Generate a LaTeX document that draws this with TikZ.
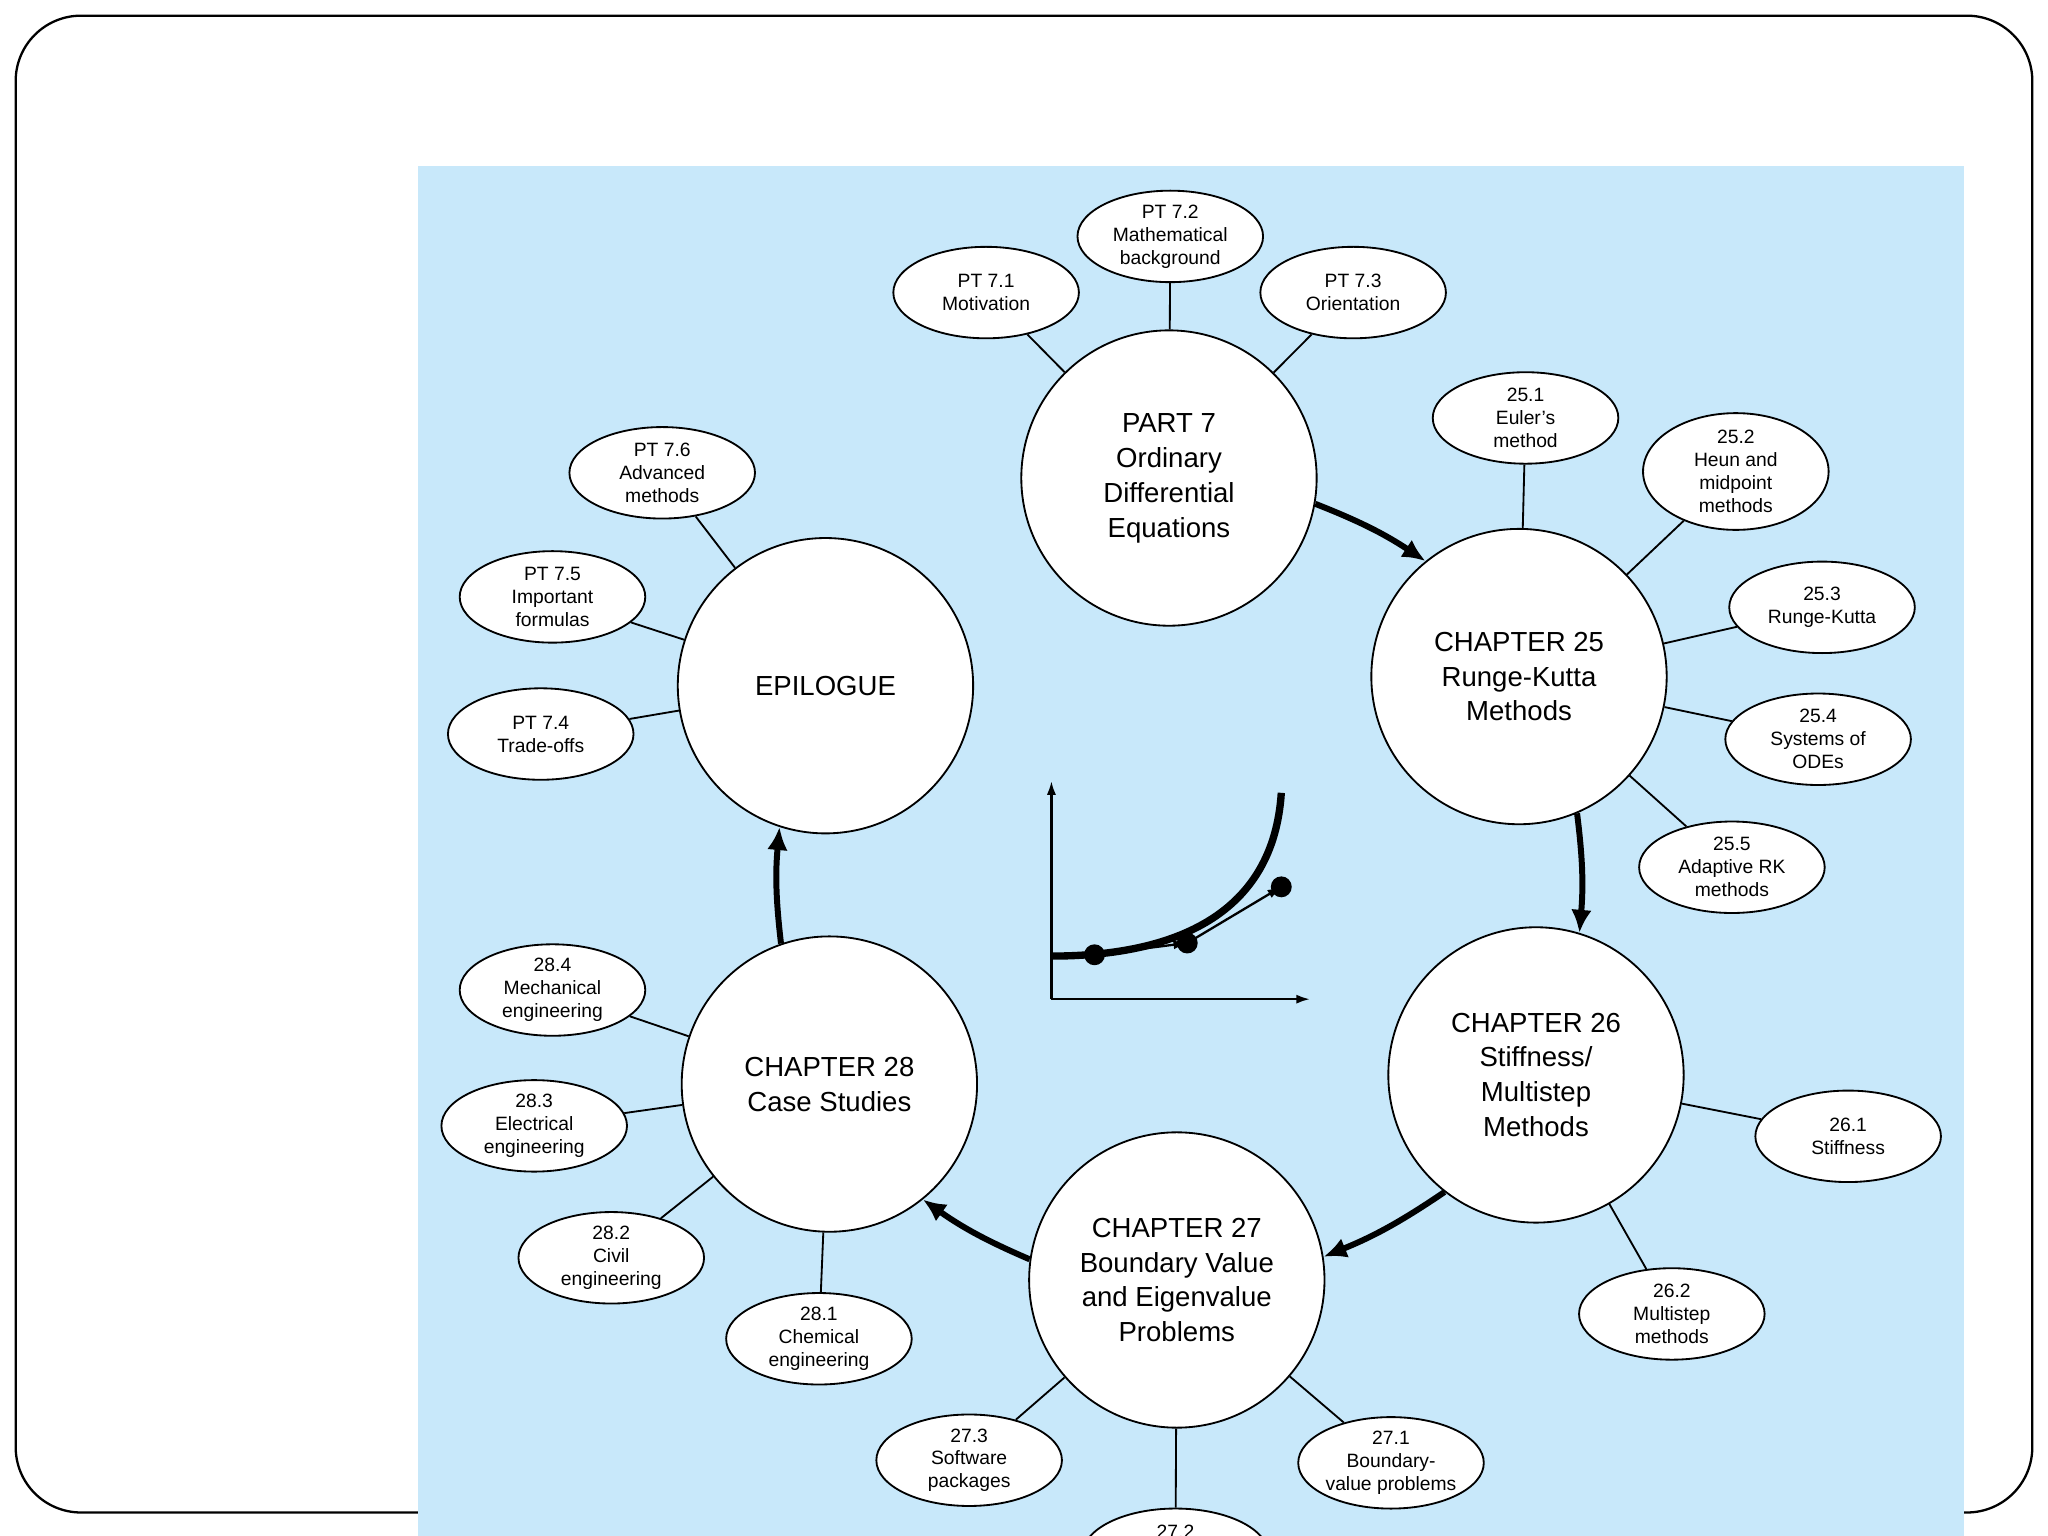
\documentclass[tikz,border=0pt]{standalone}
\usepackage{fontspec}
\setmainfont{Liberation Sans}
\usetikzlibrary{shapes.geometric,arrows.meta}
\definecolor{panel}{RGB}{200,232,250}
\begin{document}
\begin{tikzpicture}[x=0.01cm,y=-0.01cm,
 circ/.style={circle,draw,fill=white,minimum size=2.26cm,inner sep=0pt,align=center,font=\fontsize{6}{7.6}\selectfont},
 ell/.style={ellipse,draw,fill=white,minimum width=1.42cm,minimum height=0.7cm,inner sep=0pt,align=center,font=\fontsize{4.2}{5}\selectfont},
 flow/.style={line width=1.3pt,-{Latex[length=5pt,width=4.5pt]}}]
\useasboundingbox (0,0) rectangle (1568,1176);
\clip (0,0) rectangle (1568,1176);
\fill[white] (0,0) rectangle (1568,1176);
\draw[line width=0.5pt,rounded corners=0.5cm] (12,12) rectangle (1556,1158);
\fill[panel] (320,127) rectangle (1504,1180);
% circles
\node[circ] (p7) at (895,366) {PART 7\\Ordinary\\Differential\\Equations};
\node[circ] (c25) at (1163,518) {CHAPTER 25\\Runge-Kutta\\Methods};
\node[circ] (c26) at (1176,823) {CHAPTER 26\\Stiffness/\\Multistep\\Methods};
\node[circ] (c27) at (901,980) {CHAPTER 27\\Boundary Value\\and Eigenvalue\\Problems};
\node[circ] (c28) at (635,830) {CHAPTER 28\\Case Studies};
\node[circ] (ep) at (632,525) {EPILOGUE};
% ellipses
\node[ell] (a1) at (755,224) {PT 7.1\\Motivation};
\node[ell] (a2) at (896,181) {PT 7.2\\Mathematical\\background};
\node[ell] (a3) at (1036,224) {PT 7.3\\Orientation};
\node[ell] (b1) at (1168,320) {25.1\\Euler's\\method};
\node[ell] (b2) at (1329,361) {25.2\\Heun and\\midpoint\\methods};
\node[ell] (b3) at (1395,465) {25.3\\Runge-Kutta};
\node[ell] (b4) at (1392,566) {25.4\\Systems of\\ODEs};
\node[ell] (b5) at (1326,664) {25.5\\Adaptive RK\\methods};
\node[ell] (d1) at (1415,870) {26.1\\Stiffness};
\node[ell] (d2) at (1280,1006) {26.2\\Multistep\\methods};
\node[ell] (e1) at (1065,1120) {27.1\\Boundary-\\value problems};
\node[ell] (e2) at (900,1190) {27.2\\ \\ };
\node[ell] (e3) at (742,1118) {27.3\\Software\\packages};
\node[ell] (f1) at (627,1025) {28.1\\Chemical\\engineering};
\node[ell] (f2) at (468,963) {28.2\\Civil\\engineering};
\node[ell] (f3) at (409,862) {28.3\\Electrical\\engineering};
\node[ell] (f4) at (423,758) {28.4\\Mechanical\\engineering};
\node[ell] (g4) at (414,562) {PT 7.4\\Trade-offs};
\node[ell] (g5) at (423,457) {PT 7.5\\Important\\formulas};
\node[ell] (g6) at (507,362) {PT 7.6\\Advanced\\methods};
% spokes
\foreach \e/\c in {a1/p7,a2/p7,a3/p7,b1/c25,b2/c25,b3/c25,b4/c25,b5/c25,d1/c26,d2/c26,e1/c27,e2/c27,e3/c27,f1/c28,f2/c28,f3/c28,f4/c28,g4/ep,g5/ep,g6/ep}
  \draw[line width=0.4pt] (\e) -- (\c);
% flow arrows
\draw[flow] (p7.-10) to[bend left=6] (c25.129);
\draw[flow] (c25.-67) to[bend left=6] (c26.73);
\draw[flow] (c26.-128) to[bend left=6] (c27.9);
\draw[flow] (c27.172) to[bend left=6] (c28.-51);
\draw[flow] (c28.109) to[bend left=6] (ep.-108);
% small graph
\coordinate (o) at (805,765);
\coordinate (xe) at (1003,765);
\coordinate (ye) at (805,598);
\draw[line width=0.5pt,-{Latex[length=3pt,width=2pt]}] (o) -- (xe);
\draw[line width=0.5pt,-{Latex[length=3pt,width=2pt]}] (o) -- (ye);
\draw[line width=1.6pt] (805,732) .. controls (900,732) and (975,700) .. (981,607);
\coordinate (q1) at (838,731); \coordinate (q2) at (909,722); \coordinate (q3) at (981,679);
\draw[line width=0.5pt,-{Latex[length=3pt,width=2pt]}] (q1) -- (q2);
\draw[line width=0.5pt,-{Latex[length=3pt,width=2pt]}] (q2) -- (q3);
\foreach \q in {q1,q2,q3} \fill (\q) circle (8);
\end{tikzpicture}
\end{document}
